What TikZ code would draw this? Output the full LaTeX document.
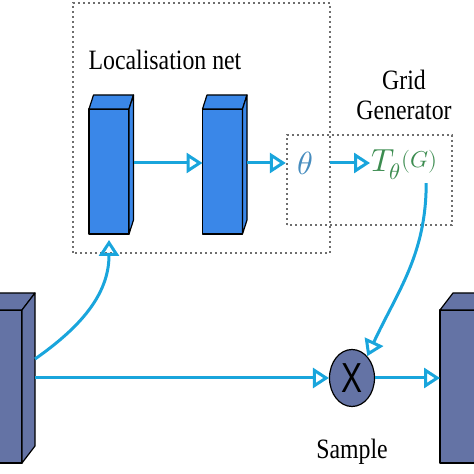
\documentclass[tikz,border=0pt]{standalone}
\usepackage{fontspec}
\usepackage{unicode-math}
\setmainfont{Liberation Serif}
\setmathfont{Latin Modern Math}
\newfontfamily\tagfont[FakeStretch=0.85]{Liberation Serif}
\newfontfamily\crossfont[FakeStretch=0.75]{Liberation Sans}
\usepackage{tikz}
\usetikzlibrary{calc,positioning}
\usetikzlibrary{arrows.meta}
\usetikzlibrary{shapes.geometric}
\definecolor{flowblue}{RGB}{25,165,220}
\definecolor{locblue}{RGB}{58,135,232}
\definecolor{mapblue}{RGB}{100,115,165}
\definecolor{thetablue}{RGB}{70,140,190}
\definecolor{gridgreen}{RGB}{60,140,80}
\definecolor{dotgray}{RGB}{110,110,110}
\tikzset{
  % connector styles
  % gebruik: \draw[flow] (a) -- (b);
  flow/.style={draw=flowblue,line width=3pt,-{Triangle[open,length=16pt,width=20pt]}},
  dotbox/.style={draw=dotgray,line width=1.4pt,dash pattern=on 1.6pt off 3.4pt},
  % block styles (front face is the node, top and side are drawn afterwards)
  locface/.style={draw,line width=1.2pt,fill=locblue,line join=round},
  mapface/.style={draw,line width=1.2pt,fill=mapblue,line join=round},
  locblock/.style={locface,rectangle,inner sep=0pt,outer sep=0pt,minimum width=40pt,minimum height=125pt},
  mapblock/.style={mapface,rectangle,inner sep=0pt,outer sep=0pt,minimum height=153pt},
  sampler/.style={ellipse,draw,line width=1.2pt,fill=mapblue,inner sep=0pt,minimum width=45pt,minimum height=57pt},
  tag/.style={inner sep=0pt,font=\tagfont\fontsize{28}{30}\selectfont},
  symb/.style={inner sep=0pt,font=\fontsize{32}{34}\selectfont},
}
\begin{document}
\begin{tikzpicture}[x=1pt,y=1pt]
  \useasboundingbox (0,0) rectangle (474,474);
  \clip (0,0) rectangle (474,474);
  % frames
  \draw[dotbox] (73,221) rectangle (330,471);
  \draw[dotbox] (287,249) rectangle (452,339);
  \node[tag] (locname) at (165,414) {Localisation net};
  \node[tag,align=center] (gridname) at (404,379) {Grid\\Generator};
  % localisation net
  \node[locblock] (b1) at (109,302.5) {};
  \node[locblock] (b2) at (222.5,302.5) {};
  \foreach \b in {b1,b2} {
    \draw[locface] (\b.north west) -- ++(4.5,14) -- ($(\b.north east)+(4.5,14)$) -- (\b.north east) -- cycle;
    \draw[locface] (\b.north east) -- ++(4.5,14) -- ($(\b.south east)+(4.5,14)$) -- (\b.south east) -- cycle;
  }
  \node[symb,minimum width=38pt,text=thetablue] (theta) at (305,311) {$\theta$};
  \node[symb,anchor=west,inner sep=1pt,text=gridgreen] (tg) at (370,309) {$T_{\theta}\hbox{\raise4pt\hbox{\fontsize{23}{23}\selectfont$(G)$}}$};
  % input and output maps
  \node[mapblock,minimum width=47pt] (inp) at (-1.5,87.5) {};
  \draw[mapface] (inp.north west) -- ++(13,17) -- ($(inp.north east)+(13,17)$) -- (inp.north east) -- cycle;
  \draw[mapface] (inp.north east) -- ++(13,17) -- ($(inp.south east)+(13,17)$) -- (inp.south east) -- cycle;
  \node[mapblock,minimum width=60pt] (outp) at (470,87.5) {};
  \draw[mapface] (outp.north west) -- ++(13,17) -- ($(outp.north east)+(13,17)$) -- (outp.north east) -- cycle;
  % sampler
  \node[sampler] (smp) at (352,96) {\crossfont\fontsize{42}{42}\selectfont X};
  \node[tag] (smpname) at (352,22) {Sample};
  % connectors
  \draw[flow] ($(inp.east)+(13,27.5)$) to[out=35,in=-90] ([yshift=-6pt]b1.south);
  \draw[flow] ($(b1.east |- theta)+(4.5,0)$) -- (b2.west |- theta);
  \draw[flow] ($(b2.east |- theta)+(4.5,0)$) -- (theta.west);
  \draw[flow] ([xshift=6pt]theta.east) -- (tg.west |- theta);
  \draw[flow] ([xshift=22pt,yshift=-2pt]tg.south) to[out=-90,in=65] (smp.55);
  \draw[flow] ($(inp.east |- smp)+(13,0)$) -- (smp.west);
  \draw[flow] (smp.east) -- (outp.west |- smp);
\end{tikzpicture}
\end{document}
